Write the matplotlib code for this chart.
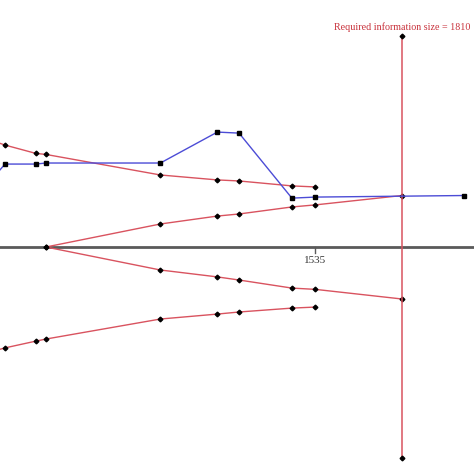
import matplotlib
matplotlib.use("Agg")
import matplotlib.pyplot as plt

# Cumulative information (number of patients) at each trial
info = [548, 646, 678, 1042, 1223, 1292, 1460, 1535]

# Cumulative Z-curve (blue), incl. one earlier point and one after RIS
z_info = [515] + info + [2007]
z_curve = [2.73, 3.19, 3.19, 3.23, 3.23, 4.42, 4.38, 1.88, 1.92, 1.98]

# Upper / lower trial sequential monitoring boundaries (efficacy)
eff_info = [500] + info
upper_eff = [4.12, 3.92, 3.60, 3.56, 2.77, 2.58, 2.54, 2.35, 2.31]
lower_eff = [-4.04, -3.88, -3.62, -3.54, -2.77, -2.58, -2.50, -2.35, -2.31]

# Futility (inner wedge) boundaries
fut_info = [678, 1042, 1223, 1292, 1460, 1535, 1810]
upper_fut = [0.0, 0.885, 1.19, 1.27, 1.54, 1.62, 1.98]
lower_fut = [0.0, -0.885, -1.15, -1.27, -1.58, -1.63, -2.0]

ris = 1810
ris_span = [8.1, -8.1]
tick_vals = [1535]
tick_labels = ["1535"]

red = "#d9535f"
blue = "#4c4cd6"

fig = plt.figure(figsize=(4.74, 4.74), dpi=100)
ax = fig.add_axes([0, 0, 1, 1])
ax.set_xlim(532, 2039)
ax.set_ylim(-227 / 26, 247 / 26)
ax.axis("off")

# horizontal axis
ax.axhline(0, color="#5a5a5a", lw=2.0, zorder=1)
for tv, tl in zip(tick_vals, tick_labels):
    ax.plot([tv, tv], [0, -0.22], color="#5a5a5a", lw=1.0, zorder=1)
    ax.text(tv, -0.36, tl, ha="center", va="top", fontsize=8,
            family="Liberation Serif", color="#333333")

mk = dict(marker="D", markersize=2.4, markerfacecolor="black",
          markeredgecolor="black")
ax.plot(eff_info, upper_eff, color=red, lw=1.0, zorder=2, **mk)
ax.plot(eff_info, lower_eff, color=red, lw=1.0, zorder=2, **mk)
ax.plot(fut_info, upper_fut, color=red, lw=1.0, zorder=2, **mk)
ax.plot(fut_info, lower_fut, color=red, lw=1.0, zorder=2, **mk)

ax.plot(z_info, z_curve, color=blue, lw=1.0, marker="s", markersize=3.3,
        markerfacecolor="black", markeredgecolor="black", zorder=3)

# required information size line
ax.plot([ris, ris], ris_span, color=red, lw=1.1, zorder=2, **mk)
ax.text(ris, 8.25, "Required information size = 1810", ha="center",
        va="bottom", fontsize=7.2, family="Liberation Serif", color="#c8303a")

fig.savefig("out.png", dpi=100)
